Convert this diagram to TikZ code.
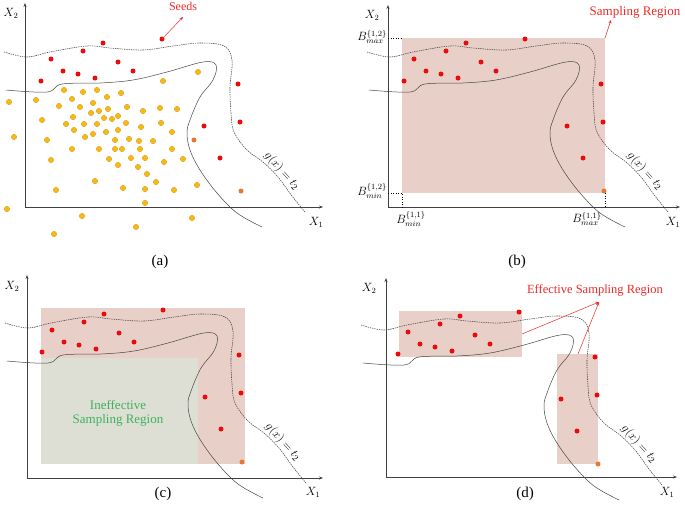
\documentclass[tikz,border=0pt]{standalone}
\usepackage{fontspec}
\setmainfont{Liberation Serif}
\usetikzlibrary{arrows.meta}
\definecolor{pinkfill}{RGB}{232,207,199}
\definecolor{grayfill}{RGB}{221,223,213}
\definecolor{dotred}{RGB}{234,12,12}
\definecolor{dotyel}{RGB}{247,186,18}
\definecolor{dotyelb}{RGB}{214,150,10}
\definecolor{dotorg}{RGB}{234,120,52}
\definecolor{curvec}{RGB}{70,70,70}
\definecolor{txtred}{RGB}{240,40,40}
\definecolor{txtgreen}{RGB}{60,178,92}
\tikzset{
  axisline/.style={draw=black!75, line width=0.6pt, {Stealth[length=4pt,width=3pt]}-{Stealth[length=4pt,width=3pt]}},
  gcurve/.style={draw=curvec, line width=0.5pt},
  dcurve/.style={draw=curvec, line width=0.55pt, dash pattern=on 1.4pt off 0.9pt},
  reddot/.style={fill=dotred},
  yeldot/.style={fill=dotyel, draw=dotyelb, line width=0.3pt},
  orgdot/.style={fill=dotorg},
  axlabel/.style={font=\fontsize{12}{14}\selectfont, inner sep=0pt},
  blabel/.style={font=\fontsize{12}{14}\selectfont, inner sep=0pt},
  sublabel/.style={font=\fontsize{15}{18}\selectfont, inner sep=0pt},
  redtext/.style={text=txtred, inner sep=0pt},
  redarrow/.style={draw=txtred, line width=0.5pt, -{Stealth[length=3.5pt,width=3pt]}},
  glabel/.style={font=\fontsize{12.5}{14}\selectfont, inner sep=0pt, rotate=-48},
  markline/.style={draw=black, line width=0.5pt, dotted},
}
\newcommand\DashCurve{\draw[dcurve] plot[smooth,tension=0.6] coordinates {(4,52) (27,57) (50,52) (87,46) (110,48) (143,50) (173,46) (200,43) (224,46) (232,60) (230,87) (231,113) (234,132) (247,150) (263,162) (278,177) (292,196) (305,212)};}
\newcommand\SolidCurve{\draw[gcurve] plot[smooth,tension=0.6] coordinates {(6,90) (47,92) (62,84) (100,83) (133,80) (167,72) (203,62) (216,65) (213,80) (200,97) (190,120) (187,133) (190,150) (200,170) (217,193) (237,213) (262,227)};}
\newcommand\SeedDots{\foreach \p in {(103,43),(162,39),(83,51),(51,59),(118,62),(63,71),(78,74),(95,78),(133,71),(41,81),(238,84),(240,122),(204,126),(220,158)} \fill[reddot] \p circle[radius=2.5pt];
  \fill[orgdot] (241,191) circle[radius=2.5pt];}
\begin{document}
\begin{tikzpicture}[x=1pt,y=-1pt]
\useasboundingbox (0,0) rectangle (685,507);
\fill[white] (0,0) rectangle (685,507);

% ================= panel (a)
\coordinate (oa) at (25,207);
\coordinate (xa) at (323,207);
\coordinate (ya) at (25,3);
\draw[axisline] (ya) -- (oa) -- (xa);
\node[axlabel] (X2a) at (11,13) {$X_2$};
\node[axlabel] (X1a) at (316,222) {$X_1$};
\DashCurve
\SolidCurve
\foreach \p in {(198,72),(163,81),(9,102),(36,100),(64,90),(83,92),(97,90),(121,93),(72,99),(107,97),(93,103),(59,106),(80,107),(91,113),(99,111),(108,109),(127,107),(143,111),(160,108),(177,109),(42,120),(73,117),(104,118),(112,119),(118,116),(66,124),(84,124),(97,124),(126,123),(161,123),(141,127),(14,137),(74,130),(85,137),(93,134),(106,132),(118,130),(172,132),(47,140),(115,140),(129,139),(139,141),(153,141),(72,149),(99,149),(115,149),(122,149),(140,149),(172,149),(51,160),(109,159),(131,158),(145,158),(183,159),(118,165),(164,162),(138,167),(147,174),(95,181),(156,182),(197,185),(56,190),(123,188),(145,189),(174,190),(145,203),(7,209),(82,216),(192,218),(136,227),(54,234)}
  \filldraw[yeldot] \p circle[radius=2.7pt];
\SeedDots
\fill[orgdot] (194,140) circle[radius=2.5pt];
\node[redtext, font=\fontsize{12}{14}\selectfont] (seeds) at (183,6) {Seeds};
\coordinate (seedsrc) at (162,39);
\coordinate (seedtip) at (183,17);
\draw[redarrow] (seedsrc) -- (seedtip);
\node[glabel] (ga) at (282,171) {$g(x)=t_2$};
\node[sublabel] (la) at (160,262) {(a)};

% ================= panel (b)
\coordinate (ob) at (388,207);
\coordinate (xb) at (680,207);
\coordinate (yb) at (388,5);
\fill[pinkfill] (402,38) rectangle (605,193);
\begin{scope}[shift={(363,0)}]
\DashCurve
\SolidCurve
\SeedDots
\end{scope}
\draw[axisline] (yb) -- (ob) -- (xb);
\coordinate (bmaxy) at (388,38);
\coordinate (rtl) at (402,38);
\coordinate (bminy) at (388,193);
\coordinate (rbl) at (402,193);
\coordinate (rbr) at (605,193);
\coordinate (axl) at (402,207);
\coordinate (axr) at (605,207);
\coordinate (rtr) at (605,38);
\draw[markline] (bmaxy) -- (rtl);
\draw[markline] (bminy) -- (rbl) -- (axl);
\draw[markline] (rbr) -- (axr);
\node[axlabel] (X2b) at (372,15) {$X_2$};
\node[axlabel] (X1b) at (673,222) {$X_1$};
\node[blabel, anchor=east] (bmax12) at (387,37) {$B^{\{1,2\}}_{max}$};
\node[blabel, anchor=east] (bmin12) at (387,191) {$B^{\{1,2\}}_{min}$};
\node[blabel] (bmin11) at (411,219) {$B^{\{1,1\}}_{min}$};
\node[blabel] (bmax11) at (587,219) {$B^{\{1,1\}}_{max}$};
\node[redtext, font=\fontsize{13}{15}\selectfont] (samp) at (635,12) {Sampling Region};
\coordinate (samptip) at (611,20);
\draw[redarrow] (rtr) -- (samptip);
\node[glabel] (gb) at (645,171) {$g(x)=t_2$};
\node[sublabel] (lb) at (517,262) {(b)};

% ================= panel (c)
\coordinate (oc) at (27,478);
\coordinate (xc) at (323,478);
\coordinate (yc) at (27,275);
\fill[pinkfill] (41,308) rectangle (245,464);
\fill[grayfill] (41,358) rectangle (198,464);
\begin{scope}[shift={(1,271)}]
\DashCurve
\SolidCurve
\SeedDots
\end{scope}
\draw[axisline] (yc) -- (oc) -- (xc);
\node[axlabel] (X2c) at (12,286) {$X_2$};
\node[axlabel] (X1c) at (313,492) {$X_1$};
\node[text=txtgreen, font=\fontsize{13}{15}\selectfont, align=center, inner sep=0pt] (ineff) at (118,413) {Ineffective\\[-1pt]Sampling Region};
\node[glabel] (gc) at (283,442) {$g(x)=t_2$};
\node[sublabel] (lc) at (163,494) {(c)};

% ================= panel (d)
\coordinate (od) at (386,477);
\coordinate (xd) at (677,477);
\coordinate (yd) at (386,278);
\fill[pinkfill] (399,311) rectangle (522,357);
\fill[pinkfill] (557,354) rectangle (598,464);
\begin{scope}[shift={(357,273)}]
\DashCurve
\SolidCurve
\SeedDots
\end{scope}
\draw[axisline] (yd) -- (od) -- (xd);
\node[axlabel] (X2d) at (369,288) {$X_2$};
\node[axlabel] (X1d) at (667,492) {$X_1$};
\node[redtext, font=\fontsize{12.5}{15}\selectfont] (eff) at (595,290) {Effective Sampling Region};
\coordinate (efftip) at (599,302);
\coordinate (r1) at (522,334);
\coordinate (r2) at (578,354);
\draw[redarrow] (r1) -- (efftip);
\draw[redarrow] (r2) -- (efftip);
\node[glabel] (gd) at (639,444) {$g(x)=t_2$};
\node[sublabel] (ld) at (525,494) {(d)};
\end{tikzpicture}
\end{document}
